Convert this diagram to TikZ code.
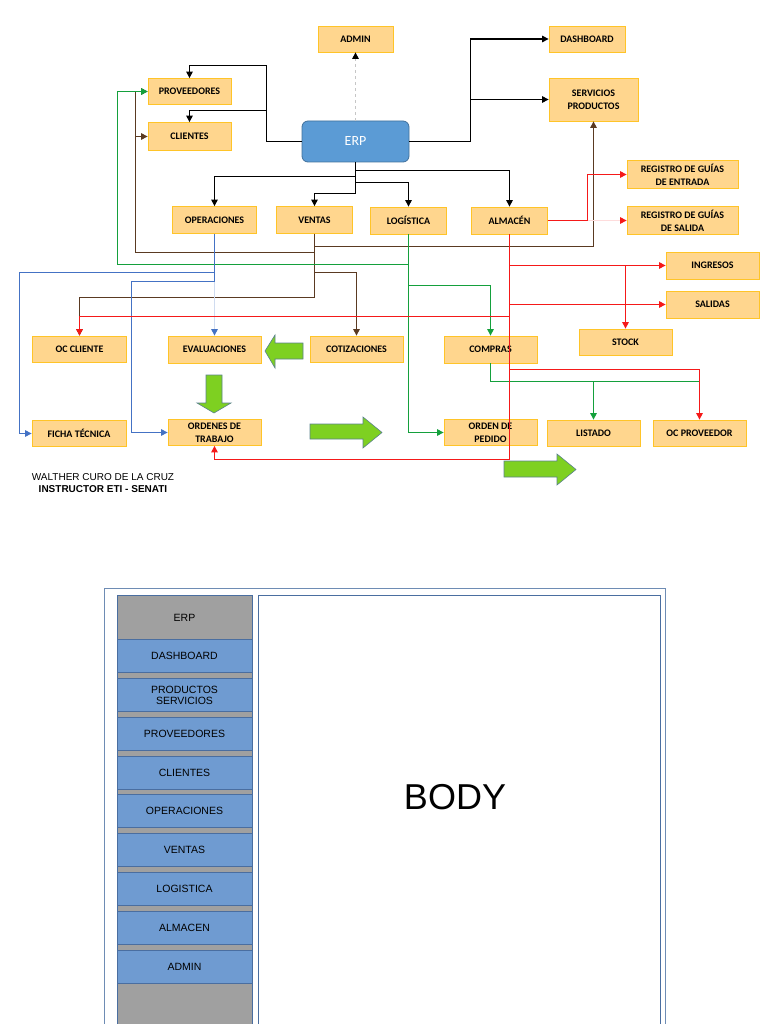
\documentclass[tikz,border=0pt]{standalone}
\usepackage{fontspec}
\setmainfont{Liberation Sans}
\newfontfamily\carlito{Carlito}
\definecolor{erpfill}{RGB}{91,155,213}
\definecolor{erpline}{RGB}{65,113,156}
\definecolor{modfill}{RGB}{255,214,142}
\definecolor{modline}{RGB}{255,196,40}
\definecolor{lnred}{RGB}{245,25,25}
\definecolor{lngreen}{RGB}{20,160,60}
\definecolor{lnblue}{RGB}{68,114,196}
\definecolor{lnbrown}{RGB}{90,58,34}
\definecolor{arrowgreen}{RGB}{126,208,33}
\definecolor{arrowedge}{RGB}{90,130,140}
\definecolor{menublue}{RGB}{111,155,209}
\definecolor{menuline}{RGB}{74,110,160}
\definecolor{menugray}{RGB}{160,160,160}
\definecolor{frameblue}{RGB}{110,140,180}
\usetikzlibrary{arrows.meta,calc}

\begin{document}
\begin{tikzpicture}[
  x=1pt,y=-1pt,
  modbox/.style={draw=modline,fill=modfill,line width=0.8pt,inner sep=0pt,align=center,
    font=\carlito\bfseries\fontsize{10}{13}\selectfont,minimum width=76pt,minimum height=26pt},
  widebox/.style={modbox,minimum width=93pt},
  link/.style={line width=1.1pt,-{Triangle[length=6.5pt,width=6.5pt]}},
  plain/.style={line width=1.1pt},
  greenarrow/.style={draw=arrowedge,fill=arrowgreen,line width=0.6pt},
  menuitem/.style={draw=menuline,fill=menublue,line width=0.8pt,minimum width=135pt,
    minimum height=33pt,inner sep=0pt,align=center,font=\fontsize{10.5}{11}\selectfont},
]
  \useasboundingbox (0,0) rectangle (768,1024);

  % Modules
  \node[modbox,minimum width=75pt] (admin) at (355.5,39) {ADMIN};
  \node[modbox] (dash) at (587,39) {DASHBOARD};
  \node[modbox,minimum width=83pt] (prov) at (189.5,91.5) {PROVEEDORES};
  \node[modbox,minimum width=83pt,minimum height=28pt] (clie) at (189.5,136.5) {CLIENTES};
  \node[draw=erpline,fill=erpfill,rounded corners=6pt,line width=0.8pt,minimum width=107pt,
        minimum height=41pt,text=white,font=\carlito\fontsize{14}{16}\selectfont] (erp) at (355.5,141.5) {ERP};
  \node[modbox,minimum width=89pt,minimum height=43pt] (serv) at (593.5,99.5) {SERVICIOS\\PRODUCTOS};
  \node[modbox,minimum width=111pt,minimum height=28pt] (regent) at (682.5,174.5) {REGISTRO DE GUÍAS\\DE ENTRADA};
  \node[modbox,minimum width=111pt,minimum height=28pt] (regsal) at (682.5,220.5) {REGISTRO DE GUÍAS\\DE SALIDA};
  \node[modbox,minimum width=84pt,minimum height=27pt] (oper) at (214.5,220) {OPERACIONES};
  \node[modbox,minimum height=27pt] (vent) at (314.5,220) {VENTAS};
  \node[modbox,minimum height=27pt] (logi) at (408.5,220.5) {LOGÍSTICA};
  \node[modbox,minimum height=27pt] (alma) at (509.5,220.5) {ALMACÉN};
  \node[widebox,minimum height=27pt] (ingr) at (712.5,265.5) {INGRESOS};
  \node[widebox,minimum height=27pt] (sali) at (712.5,304.5) {SALIDAS};
  \node[widebox] (stock) at (625.5,342) {STOCK};
  \node[widebox,minimum width=94pt] (occli) at (79.5,349) {OC CLIENTE};
  \node[widebox,minimum height=27pt] (eval) at (214.5,349.5) {EVALUACIONES};
  \node[widebox] (coti) at (356.5,349) {COTIZACIONES};
  \node[widebox,minimum height=27pt] (comp) at (490.5,349.5) {COMPRAS};
  \node[widebox,minimum width=94pt] (ficha) at (79,433.5) {FICHA TÉCNICA};
  \node[widebox] (ordtr) at (214.5,432.5) {ORDENES DE\\TRABAJO};
  \node[widebox] (ordped) at (490.5,432.5) {ORDEN DE\\PEDIDO};
  \node[widebox] (list) at (593.5,433) {LISTADO};
  \node[widebox] (ocprov) at (699.5,433) {OC PROVEEDOR};

  \node[align=center,font=\fontsize{10}{12.5}\selectfont] (author) at (103,483)
    {WALTHER CURO DE LA CRUZ\\\textbf{INSTRUCTOR ETI - SENATI}};

  % ERP links
  \coordinate (jw) at (266.5,110.5);
  \coordinate (je) at (470.5,99.5);
  \draw[link] (erp.west) -| (266.5,65.5) -| (prov.north);
  \draw[link] (jw) -| (clie.north);
  \draw[link] (erp.east) -| (je) |- (dash.west);
  \draw[link] (je) -- (serv.west);
  \draw[link,draw=gray!45,dashed,-{Triangle[length=6.5pt,width=6.5pt,color=black]}] (erp.north) -- (admin.south);
  \draw[link] (erp.south) -- (355.5,193.5) -| (vent.north);
  \draw[link] (erp.south |- 0,170.5) -| (alma.north);
  \draw[link] (erp.south |- 0,176.5) -| (oper.north);
  \draw[link] (erp.south |- 0,182.5) -| (logi.north);

  % Ventas
  \draw[link,lnbrown] (vent.south) |- (coti.north |- 0,272.5) -- (coti.north);
  \draw[link,lnbrown] (vent.south) |- (occli.north |- 0,297.5) -- (occli.north);
  \draw[link,lnbrown] (vent.south |- 0,246.5) -| (serv.south);
  \draw[link,lnbrown] (vent.south |- 0,252.5) -| (135.5,91.5) -- (prov.west);
  \draw[link,lnbrown] (clie.west -| 135.5,0) -- (clie.west);

  % Logistica
  \draw[link,lngreen] (logi.south |- 0,264.5) -- (117.5,264.5) |- (prov.west);
  \draw[link,lngreen] (logi.south) |- (ordped.west);
  \draw[link,lngreen] (logi.south |- 0,285.5) -| (comp.north);
  \draw[plain,lngreen] (comp.south) |- (ocprov.north |- 0,381.5);
  \draw[link,lngreen] (list.north |- 0,381.5) -- (list.north);

  % Operaciones
  \coordinate (opj) at (214.5,281.5);
  \draw[plain,lnblue] (oper.south) -- (opj);
  \draw[link,lnblue] (oper.south |- 0,272.5) -- (19.5,272.5) |- (ficha.west);
  \draw[link,lnblue] (opj) -- (131.5,281.5) |- (ordtr.west);
  \draw[link,draw=lnblue!25,-{Triangle[length=6.5pt,width=6.5pt,color=lnblue]}] (opj) -- (eval.north);

  % Almacen
  \draw[link,lnred] (alma.south) |- (ordtr.south |- 0,459.5) -- (ordtr.south);
  \draw[link,lnred] (alma.south |- ingr.west) -- (ingr.west);
  \draw[link,lnred] (stock.north |- ingr.west) -- (stock.north);
  \draw[link,lnred] (alma.south |- sali.west) -- (sali.west);
  \draw[link,lnred] (alma.south |- 0,316.5) -| (occli.north);
  \draw[link,lnred] (alma.south |- 0,369.5) -| (ocprov.north);
  \draw[link,lnred] (alma.east) -- ++(40,0) |- (regent.west);
  \draw[link,draw=lnred!15,-{Triangle[length=6.5pt,width=6.5pt,color=lnred]}] ($(alma.east)+(40,0)$) -- (regsal.west);

  % Green block arrows
  \draw[greenarrow] (303,343) -- (275,343) -- (275,335) -- (265,351) -- (275,368) -- (275,359) -- (303,359) -- cycle;
  \draw[greenarrow] (206,375) -- (222,375) -- (222,403) -- (231,403) -- (214,413) -- (197,403) -- (206,403) -- cycle;
  \draw[greenarrow] (310,424) -- (363,424) -- (363,417) -- (382,432.5) -- (363,448) -- (363,439) -- (310,439) -- cycle;
  \draw[greenarrow] (504,461) -- (557,461) -- (557,454) -- (576,469.5) -- (557,485) -- (557,477) -- (504,477) -- cycle;

  % Page layout
  \draw[frameblue,line width=0.8pt] (104,588) rectangle (665,1030);
  \draw[menuline,fill=menugray,line width=0.8pt] (117,595) rectangle (252,1030);
  \node[menuitem,fill=menugray,minimum height=45pt] (merp) at (184.5,617.5) {ERP};
  \node[menuitem] (mdash) at (184.5,656) {DASHBOARD};
  \node[menuitem] (mprod) at (184.5,695) {PRODUCTOS\\SERVICIOS};
  \node[menuitem] (mprov) at (184.5,733.5) {PROVEEDORES};
  \node[menuitem] (mclie) at (184.5,772.5) {CLIENTES};
  \node[menuitem] (moper) at (184.5,811) {OPERACIONES};
  \node[menuitem] (mvent) at (184.5,850) {VENTAS};
  \node[menuitem] (mlogi) at (184.5,889) {LOGISTICA};
  \node[menuitem] (malma) at (184.5,928) {ALMACEN};
  \node[menuitem] (madmin) at (184.5,967) {ADMIN};
  \draw[menuline,line width=0.8pt] (258,595) rectangle (660,1030);
  \node[font=\fontsize{36}{40}\selectfont] (body) at (455,797) {BODY};
\end{tikzpicture}
\end{document}
